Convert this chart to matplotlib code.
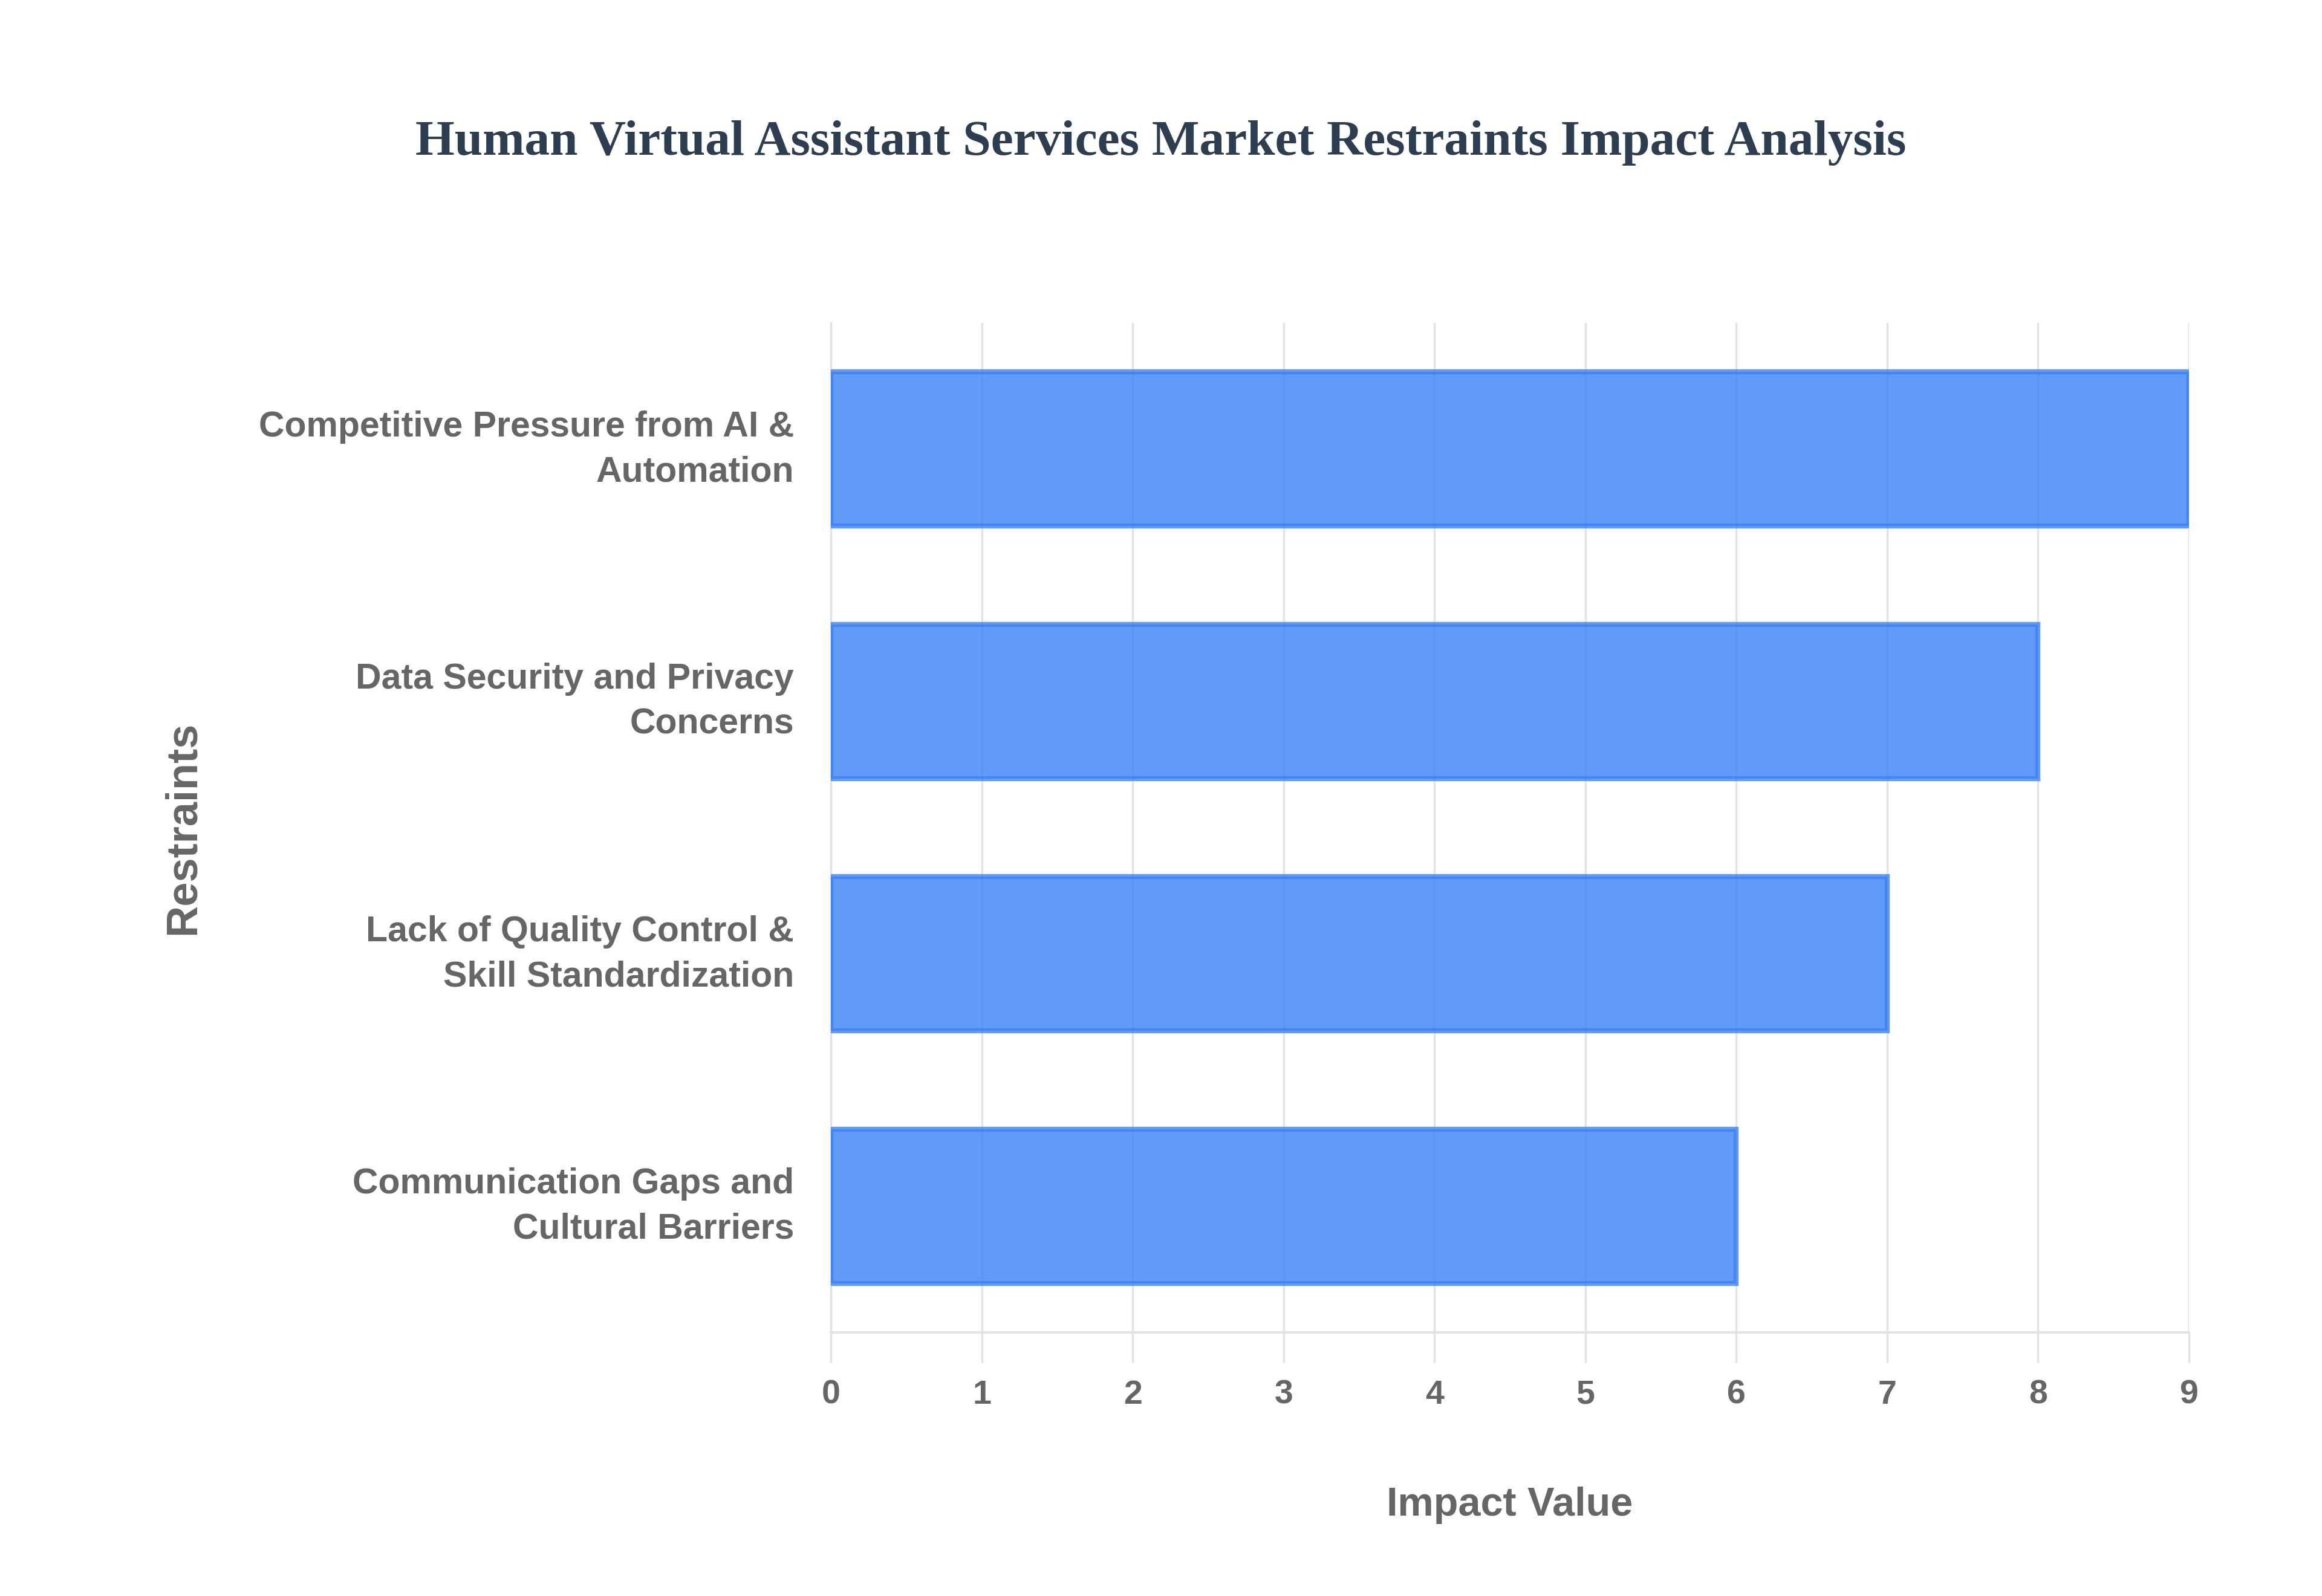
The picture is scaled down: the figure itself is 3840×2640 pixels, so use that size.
import matplotlib.pyplot as plt
import matplotlib.transforms as mtransforms

categories = [
    "Communication Gaps and\nCultural Barriers",
    "Lack of Quality Control &\nSkill Standardization",
    "Data Security and Privacy\nConcerns",
    "Competitive Pressure from AI &\nAutomation",
]
impact = [6, 7, 8, 9]
xticks = list(range(0, 10))

plt.rcParams['font.family'] = ['Liberation Sans', 'DejaVu Sans']

fig = plt.figure(figsize=(38.4, 26.4), dpi=100)
ax = fig.add_axes([1374 / 3840, 1 - 2204 / 2640, (3620 - 1374) / 3840, (2204 - 534) / 2640])

ax.barh(range(len(categories)), impact, height=0.61,
        color='#3b82f6', alpha=0.8, edgecolor='#3b82f6', linewidth=6, zorder=3)

ax.set_xlim(0, 9)
ax.set_ylim(-0.5, len(categories) - 0.5)
ax.set_xticks(xticks)
ax.set_yticks(range(len(categories)))
ax.set_yticklabels(categories, linespacing=1.45)

ax.grid(axis='x', color='#e3e3e3', linewidth=2.5, zorder=0)
for s in ['top', 'right']:
    ax.spines[s].set_visible(False)
ax.spines['left'].set_color('#e3e3e3')
ax.spines['left'].set_linewidth(2.5)
ax.spines['bottom'].set_color('#e3e3e3')
ax.spines['bottom'].set_linewidth(3)

ax.tick_params(axis='x', length=36, width=2.5, color='#e3e3e3', pad=20,
               labelsize=40, labelcolor='#666666')
ax.tick_params(axis='y', length=0, pad=44, labelsize=42.5, labelcolor='#666666')
shift = mtransforms.ScaledTranslation(0, 15 / 100, fig.dpi_scale_trans)
for lbl in ax.get_yticklabels():
    lbl.set_transform(lbl.get_transform() + shift)
for lbl in ax.get_xticklabels() + ax.get_yticklabels():
    lbl.set_fontweight('bold')

ax.set_xlabel("Impact Value", fontsize=48, fontweight='bold', color='#666666', labelpad=90)
ax.set_ylabel("Restraints", fontsize=52, fontweight='bold', color='#666666', labelpad=0)
ax.yaxis.set_label_coords(-0.462, 0.5)

fig.text(0.5, 1 - 236 / 2640, "Human Virtual Assistant Services Market Restraints Impact Analysis",
         ha='center', va='center', fontsize=60, fontweight='bold', color='#2c3e50',
         family=['Liberation Serif', 'DejaVu Serif'])

fig.savefig("out.png", dpi=100, facecolor='white')
